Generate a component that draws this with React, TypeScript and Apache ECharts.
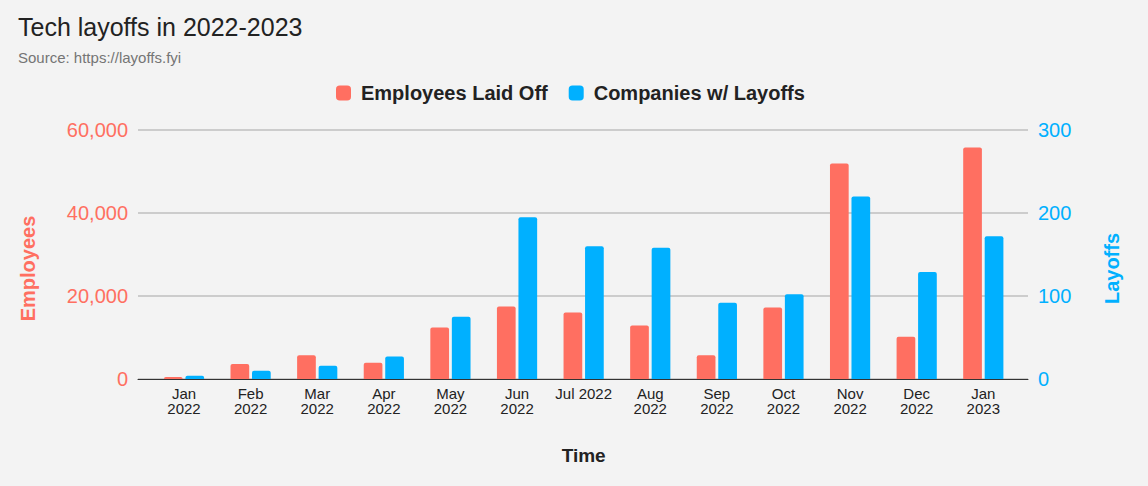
import React, { useEffect, useRef } from "react";
import * as echarts from "echarts";

const categories = [
  "Jan\n2022", "Feb\n2022", "Mar\n2022", "Apr\n2022", "May\n2022", "Jun\n2022",
  "Jul 2022", "Aug\n2022", "Sep\n2022", "Oct\n2022", "Nov\n2022", "Dec\n2022", "Jan\n2023",
];
const employeesLaidOff = [510, 3600, 5700, 3930, 12400, 17500, 16000, 12900, 5700, 17200, 51900, 10200, 55800];
const companiesWithLayoffs = [4, 10, 16, 27, 75, 195, 160, 158, 92, 102, 220, 129, 172];

const FONT = "Liberation Sans, Arial, sans-serif";
const CORAL = "#ff6f61";
const BLUE = "#00b0ff";

const TOP = 130;
const BOTTOM = 107;

export default function App() {
  const ref = useRef<HTMLDivElement>(null);
  useEffect(() => {
    document.body.style.margin = "0";
    const chart = echarts.init(ref.current!, null, { renderer: "svg" });
    chart.setOption({
      animation: false,
      backgroundColor: "#f3f3f3",
      textStyle: { fontFamily: FONT },
      title: {
        text: "Tech layoffs in 2022-2023",
        subtext: "Source: https://layoffs.fyi",
        left: 13,
        top: 9,
        itemGap: 11,
        textStyle: { fontSize: 25, fontWeight: "normal", color: "#222", fontFamily: FONT },
        subtextStyle: { fontSize: 15, color: "#757575", fontFamily: FONT },
      },
      legend: {
        top: 78,
        left: 331,
        itemWidth: 15,
        itemHeight: 15,
        itemGap: 21,
        icon: "roundRect",
        textStyle: {
          fontSize: 20,
          fontWeight: "bold",
          color: "#222",
          fontFamily: FONT,
          padding: [0, 0, 0, 5],
        },
        data: ["Employees Laid Off", "Companies w/ Layoffs"],
      },
      grid: [
        { left: 138, right: 120, top: TOP, bottom: BOTTOM },
        { left: 150.7, right: 131.4, top: TOP, bottom: BOTTOM },
      ],
      xAxis: [
        {
          type: "value",
          gridIndex: 0,
          min: 0,
          max: 1,
          axisLine: { show: true, onZero: false, lineStyle: { color: "#333", width: 1 } },
          axisTick: { show: false },
          axisLabel: { show: false },
          splitLine: { show: false },
        },
        {
          type: "category",
          gridIndex: 1,
          data: categories,
          name: "Time",
          nameLocation: "middle",
          nameGap: 67,
          nameTextStyle: { fontSize: 19, fontWeight: "bold", color: "#222", fontFamily: FONT },
          axisLine: { show: false },
          axisTick: { show: false },
          axisLabel: { color: "#222", fontSize: 15, lineHeight: 15, margin: 7, interval: 0, fontFamily: FONT },
        },
      ],
      yAxis: [
        {
          type: "value",
          gridIndex: 0,
          min: 0,
          max: 60000,
          interval: 20000,
          name: "Employees",
          nameLocation: "middle",
          nameRotate: 90,
          nameGap: 100,
          nameTextStyle: {
            fontSize: 20,
            fontWeight: "bold",
            color: CORAL,
            fontFamily: FONT,
            padding: [0, 28, 0, 0],
          },
          axisLabel: {
            color: CORAL,
            fontSize: 20,
            margin: 10,
            fontFamily: FONT,
            formatter: (v: number) => v.toLocaleString("en-US"),
          },
          axisLine: { show: false },
          axisTick: { show: false },
          splitLine: { lineStyle: { color: "#cccccc", width: 2 } },
        },
        {
          type: "value",
          gridIndex: 0,
          position: "right",
          min: 0,
          max: 300,
          interval: 100,
          name: "Layoffs",
          nameLocation: "middle",
          nameRotate: 90,
          nameGap: 74,
          nameTextStyle: {
            fontSize: 20,
            fontWeight: "bold",
            color: BLUE,
            fontFamily: FONT,
            padding: [0, 28, 0, 0],
          },
          axisLabel: { color: BLUE, fontSize: 20, margin: 10, fontFamily: FONT },
          axisLine: { show: false },
          axisTick: { show: false },
          splitLine: { show: false },
        },
        {
          type: "value",
          gridIndex: 1,
          min: 0,
          max: 60000,
          show: false,
          splitLine: { show: false },
        },
        {
          type: "value",
          gridIndex: 1,
          position: "right",
          min: 0,
          max: 300,
          show: false,
          splitLine: { show: false },
        },
      ],
      series: [
        {
          name: "Employees Laid Off",
          type: "bar",
          xAxisIndex: 1,
          yAxisIndex: 2,
          data: employeesLaidOff,
          barWidth: 18.7,
          barGap: "15%",
          itemStyle: { color: CORAL, borderRadius: [2, 2, 0, 0] },
        },
        {
          name: "Companies w/ Layoffs",
          type: "bar",
          xAxisIndex: 1,
          yAxisIndex: 3,
          data: companiesWithLayoffs,
          barWidth: 18.7,
          itemStyle: { color: BLUE, borderRadius: [2, 2, 0, 0] },
        },
      ],
    });
    return () => chart.dispose();
  }, []);
  return <div ref={ref} style={{ width: 1148, height: 486 }} />;
}
